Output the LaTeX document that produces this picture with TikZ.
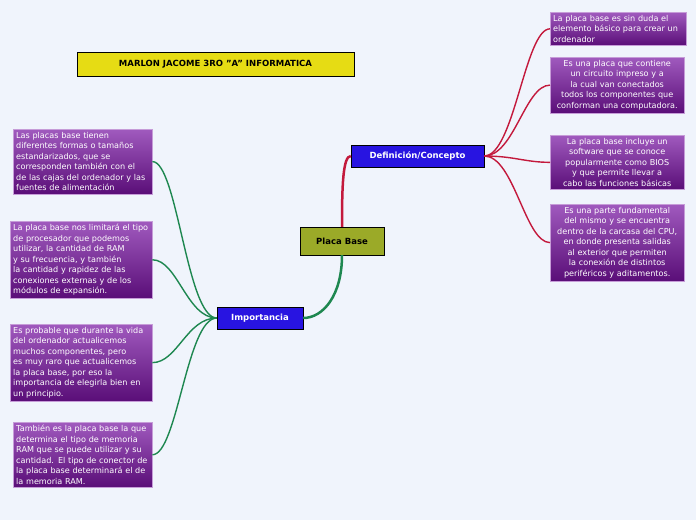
\documentclass[tikz,border=0pt]{standalone}
\usepackage{fontspec}
\setmainfont{DejaVu Sans}
\hyphenpenalty=10000
\exhyphenpenalty=10000
\definecolor{ptop}{RGB}{160,90,190}
\definecolor{pbot}{RGB}{90,14,120}
\definecolor{tblue}{RGB}{40,20,225}
\definecolor{olv}{RGB}{155,170,40}
\definecolor{grnc}{RGB}{30,135,80}
\definecolor{redc}{RGB}{195,25,60}
\definecolor{ttl}{RGB}{230,220,20}
\definecolor{bg}{RGB}{240,244,252}
\begin{document}
\begin{tikzpicture}[x=1pt,y=-1pt,
 leaf/.style={anchor=north west,inner sep=3pt,text=white,top color=ptop,bottom color=pbot,draw=ptop!60,font=\fontsize{8.1}{10.5}\selectfont,text width=#1},
 topic/.style={draw=black,fill=tblue,text=white,font=\bfseries\fontsize{8.5}{10}\selectfont,minimum height=22,inner xsep=4pt},
 red/.style={draw=redc,line width=1.4pt},
 grn/.style={draw=grnc,line width=1.4pt}]
\fill[bg] (0,0) rectangle (696,520);
\useasboundingbox (0,0) rectangle (696,520);
\node[draw=black,fill=ttl,font=\bfseries\fontsize{8.5}{10}\selectfont,minimum width=277,minimum height=24] (title) at (215.5,64) {MARLON JACOME 3RO "A" INFORMATICA};
\node[draw=black,fill=olv,font=\bfseries\fontsize{8.5}{10}\selectfont,minimum width=84,minimum height=28] (pb) at (342,241) {Placa Base};
\node[topic,minimum width=133] (def) at (417.5,156) {Definición/Concepto};
\node[topic,minimum width=86] (imp) at (260,318) {Importancia};
% right leaves
\node[leaf=130pt,align=left] (r1) at (550,12) {La placa base es sin duda el elemento básico para crear un ordenador};
\node[leaf=128pt,align=center] (r2) at (550,57) {Es una placa que contiene un circuito impreso y a la cual van conectados todos los componentes que conforman una computadora.};
\node[leaf=128pt,align=center] (r3) at (550,135) {La placa base incluye un software que se conoce popularmente como BIOS y que permite llevar a cabo las funciones básicas};
\node[leaf=128pt,align=center] (r4) at (550,204) {Es una parte fundamental del mismo y se encuentra dentro de la carcasa del CPU, en donde presenta salidas al exterior que permiten la conexión de distintos periféricos y aditamentos.};
% left leaves
\node[leaf=133pt,align=left] (l1) at (13,129) {Las placas base tienen diferentes formas o tamaños estandarizados, que se corresponden también con el de las cajas del ordenador y las fuentes de alimentación};
\node[leaf=136pt,align=left] (l2) at (10,221) {La placa base nos limitará el tipo de procesador que podemos utilizar, la cantidad de RAM y su frecuencia, y también la cantidad y rapidez de las conexiones externas y de los módulos de expansión.};
\node[leaf=136pt,align=left] (l3) at (10,324) {Es probable que durante la vida del ordenador actualicemos muchos componentes, pero es muy raro que actualicemos la placa base, por eso la importancia de elegirla bien en un principio.};
\node[leaf=133pt,align=left] (l4) at (13,422) {También es la placa base la que determina el tipo de memoria RAM que se puede utilizar y su cantidad. El tipo de conector de la placa base determinará el de la memoria RAM.};
% connectors
\draw[red,line width=2.5pt] (pb.north) .. controls +(0,-40) and +(-8,0) .. (def.west);
\foreach \n in {r1,r2,r3,r4}
  \draw[red] (def.east) .. controls +(30,0) and +(-25,0) .. (\n.west);
\draw[grn,line width=2.5pt] (pb.south) .. controls +(0,40) and +(20,0) .. (imp.east);
\foreach \n in {l1,l2,l3,l4}
  \draw[grn] (imp.west) .. controls +(-30,0) and +(25,0) .. (\n.east);
\end{tikzpicture}
\end{document}
